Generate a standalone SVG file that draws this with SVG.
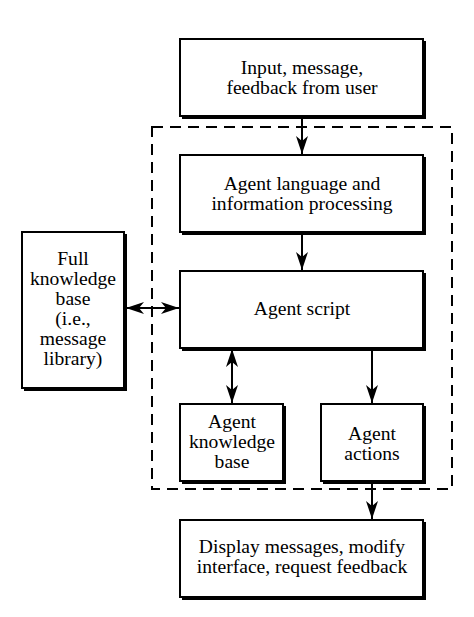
<svg xmlns="http://www.w3.org/2000/svg" width="474" height="617" viewBox="0 0 474 617">
<style>
.box{fill:#fff;stroke:#000;stroke-width:2}
.sh{fill:#000}
text{font-family:"Liberation Serif","Times New Roman",serif;font-size:19.6px;fill:#000;text-anchor:middle}
.ln{stroke:#000;stroke-width:2;fill:none}
.dash{stroke:#000;stroke-width:2;fill:none;stroke-dasharray:11 7}
</style>
<defs>
<marker id="ah" viewBox="0 0 18 12" refX="18" refY="6" markerWidth="18" markerHeight="12" markerUnits="userSpaceOnUse" orient="auto-start-reverse">
<path d="M0,0 L18,6 L0,12 L5,6 Z" fill="#000"/>
</marker>
</defs>
<rect width="474" height="617" fill="#fff"/>
<g id="system-boundary">
<rect class="dash" x="152" y="127" width="300" height="362"/>
</g>
<g id="connectors">
<line class="ln" x1="302" y1="118" x2="302" y2="154" marker-end="url(#ah)"/>
<line class="ln" x1="302" y1="233" x2="302" y2="270" marker-end="url(#ah)"/>
<line class="ln" x1="126" y1="308" x2="179" y2="308" marker-start="url(#ah)" marker-end="url(#ah)"/>
<line class="ln" x1="232" y1="349" x2="232" y2="403" marker-start="url(#ah)" marker-end="url(#ah)"/>
<line class="ln" x1="372" y1="349" x2="372" y2="403" marker-end="url(#ah)"/>
<line class="ln" x1="372" y1="483" x2="372" y2="519" marker-end="url(#ah)"/>
</g>
<g id="input">
<rect class="sh" x="182" y="41" width="244" height="78"/>
<rect class="box" x="180" y="39" width="243" height="77"/>
<text x="302" y="74">Input, message,</text>
<text x="302" y="94">feedback from user</text>
</g>
<g id="language">
<rect class="sh" x="182" y="157" width="244" height="78"/>
<rect class="box" x="180" y="155" width="243" height="77"/>
<text x="302" y="190">Agent language and</text>
<text x="302" y="210">information processing</text>
</g>
<g id="script">
<rect class="sh" x="182" y="273" width="244" height="78"/>
<rect class="box" x="180" y="271" width="243" height="77"/>
<text x="302" y="315">Agent script</text>
</g>
<g id="full-kb">
<rect class="sh" x="24" y="234" width="103" height="157"/>
<rect class="box" x="22" y="232" width="102" height="156"/>
<text x="73" y="265">Full</text>
<text x="73" y="285">knowledge</text>
<text x="73" y="305">base</text>
<text x="73" y="325">(i.e.,</text>
<text x="73" y="345">message</text>
<text x="73" y="365">library)</text>
</g>
<g id="agent-kb">
<rect class="sh" x="182" y="406" width="104" height="78"/>
<rect class="box" x="180" y="404" width="103" height="77"/>
<text x="232" y="428">Agent</text>
<text x="232" y="448">knowledge</text>
<text x="232" y="468">base</text>
</g>
<g id="agent-actions">
<rect class="sh" x="323" y="406" width="103" height="78"/>
<rect class="box" x="321" y="404" width="102" height="77"/>
<text x="372" y="440">Agent</text>
<text x="372" y="460">actions</text>
</g>
<g id="display">
<rect class="sh" x="182" y="522" width="244" height="78"/>
<rect class="box" x="180" y="520" width="243" height="77"/>
<text x="302" y="553">Display messages, modify</text>
<text x="302" y="573">interface, request feedback</text>
</g>
</svg>
